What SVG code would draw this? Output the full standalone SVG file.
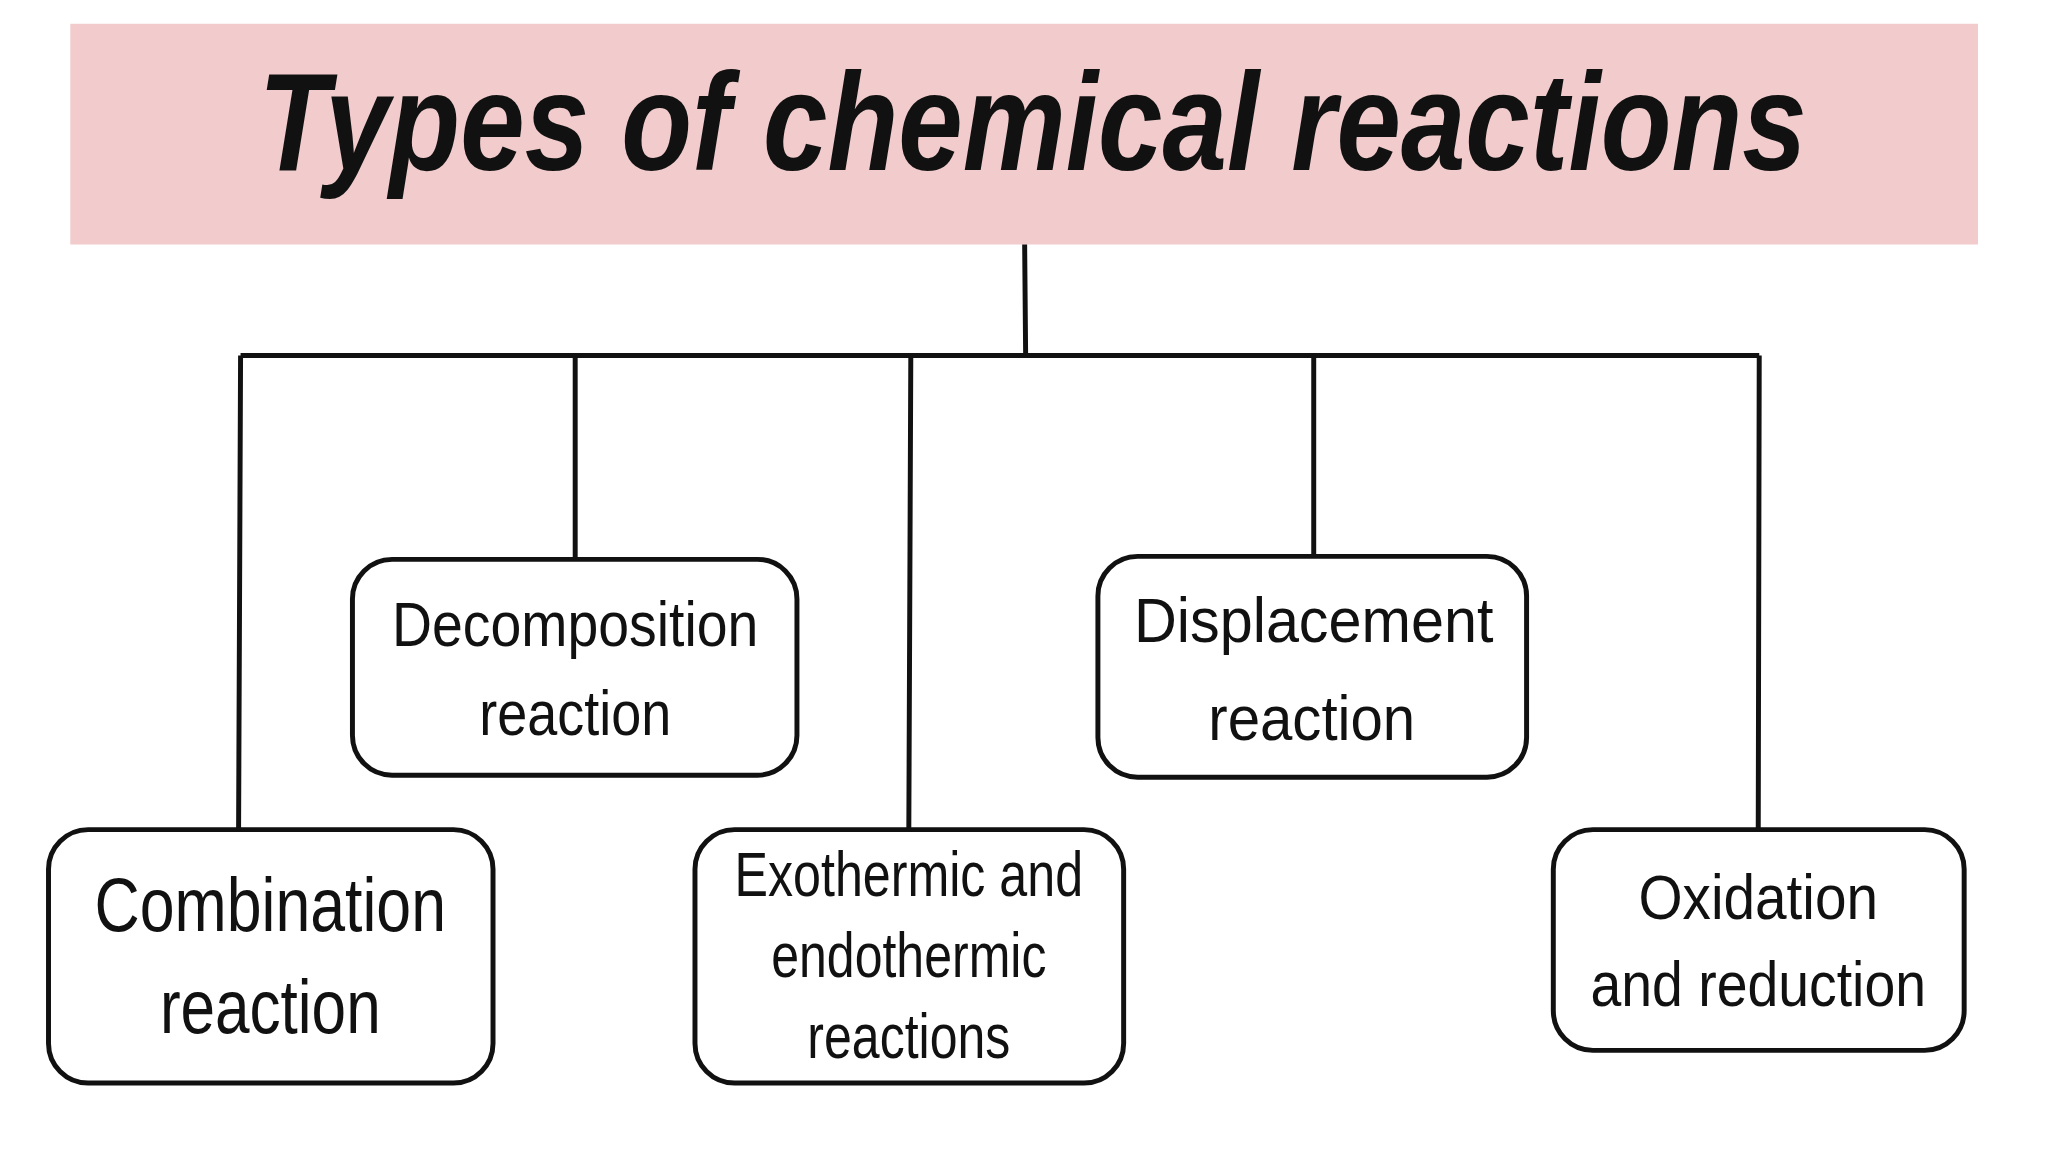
<svg xmlns="http://www.w3.org/2000/svg" width="2048" height="1152" viewBox="0 0 2048 1152">
<style>
.box{fill:#fff;stroke:#111;stroke-width:5}
.t{font-family:"Liberation Sans",Arial,sans-serif;fill:#111;text-anchor:middle}
.s{font-size:64px}
.l{font-size:76px}
#connectors path{fill:none;stroke:#111;stroke-width:5}
</style>
<rect width="2048" height="1152" fill="#fff"/>
<g transform="scale(0.99)">
<g id="title">
<rect x="71" y="24" width="1927" height="223" fill="#f2cccc"/>
<text class="t" x="1043" y="172" font-size="140" font-style="italic" font-weight="bold" textLength="1564" lengthAdjust="spacingAndGlyphs">Types of chemical reactions</text>
</g>
<g id="connectors">
<path d="M1035 247 L1036 359 M243 359 L1777 359 M243 359 L241 839 M581 359 L581 578 M920 359 L918 839 M1327 359 L1327 578 M1777 359 L1776 839"/>
</g>
<g id="combination">
<rect class="box" x="49" y="838" width="449" height="256" rx="40"/>
<text class="t l" x="273" y="940" textLength="355" lengthAdjust="spacingAndGlyphs">Combination</text>
<text class="t l" x="273" y="1043" textLength="223" lengthAdjust="spacingAndGlyphs">reaction</text>
</g>
<g id="decomposition">
<rect class="box" x="356" y="565" width="449" height="218" rx="40"/>
<text class="t s" x="581" y="653" textLength="370" lengthAdjust="spacingAndGlyphs">Decomposition</text>
<text class="t s" x="581" y="742" textLength="194" lengthAdjust="spacingAndGlyphs">reaction</text>
</g>
<g id="exothermic">
<rect class="box" x="702" y="838" width="433" height="256" rx="40"/>
<text class="t s" x="918" y="905" textLength="352" lengthAdjust="spacingAndGlyphs">Exothermic and</text>
<text class="t s" x="918" y="987" textLength="278" lengthAdjust="spacingAndGlyphs">endothermic</text>
<text class="t s" x="918" y="1069" textLength="205" lengthAdjust="spacingAndGlyphs">reactions</text>
</g>
<g id="displacement">
<rect class="box" x="1109" y="562" width="433" height="223" rx="40"/>
<text class="t s" x="1327" y="649" textLength="363" lengthAdjust="spacingAndGlyphs">Displacement</text>
<text class="t s" x="1325" y="747" textLength="209" lengthAdjust="spacingAndGlyphs">reaction</text>
</g>
<g id="oxidation">
<rect class="box" x="1569" y="838" width="415" height="223" rx="40"/>
<text class="t s" x="1776" y="928" textLength="242" lengthAdjust="spacingAndGlyphs">Oxidation</text>
<text class="t s" x="1776" y="1016" textLength="339" lengthAdjust="spacingAndGlyphs">and reduction</text>
</g>
</g>
</svg>
